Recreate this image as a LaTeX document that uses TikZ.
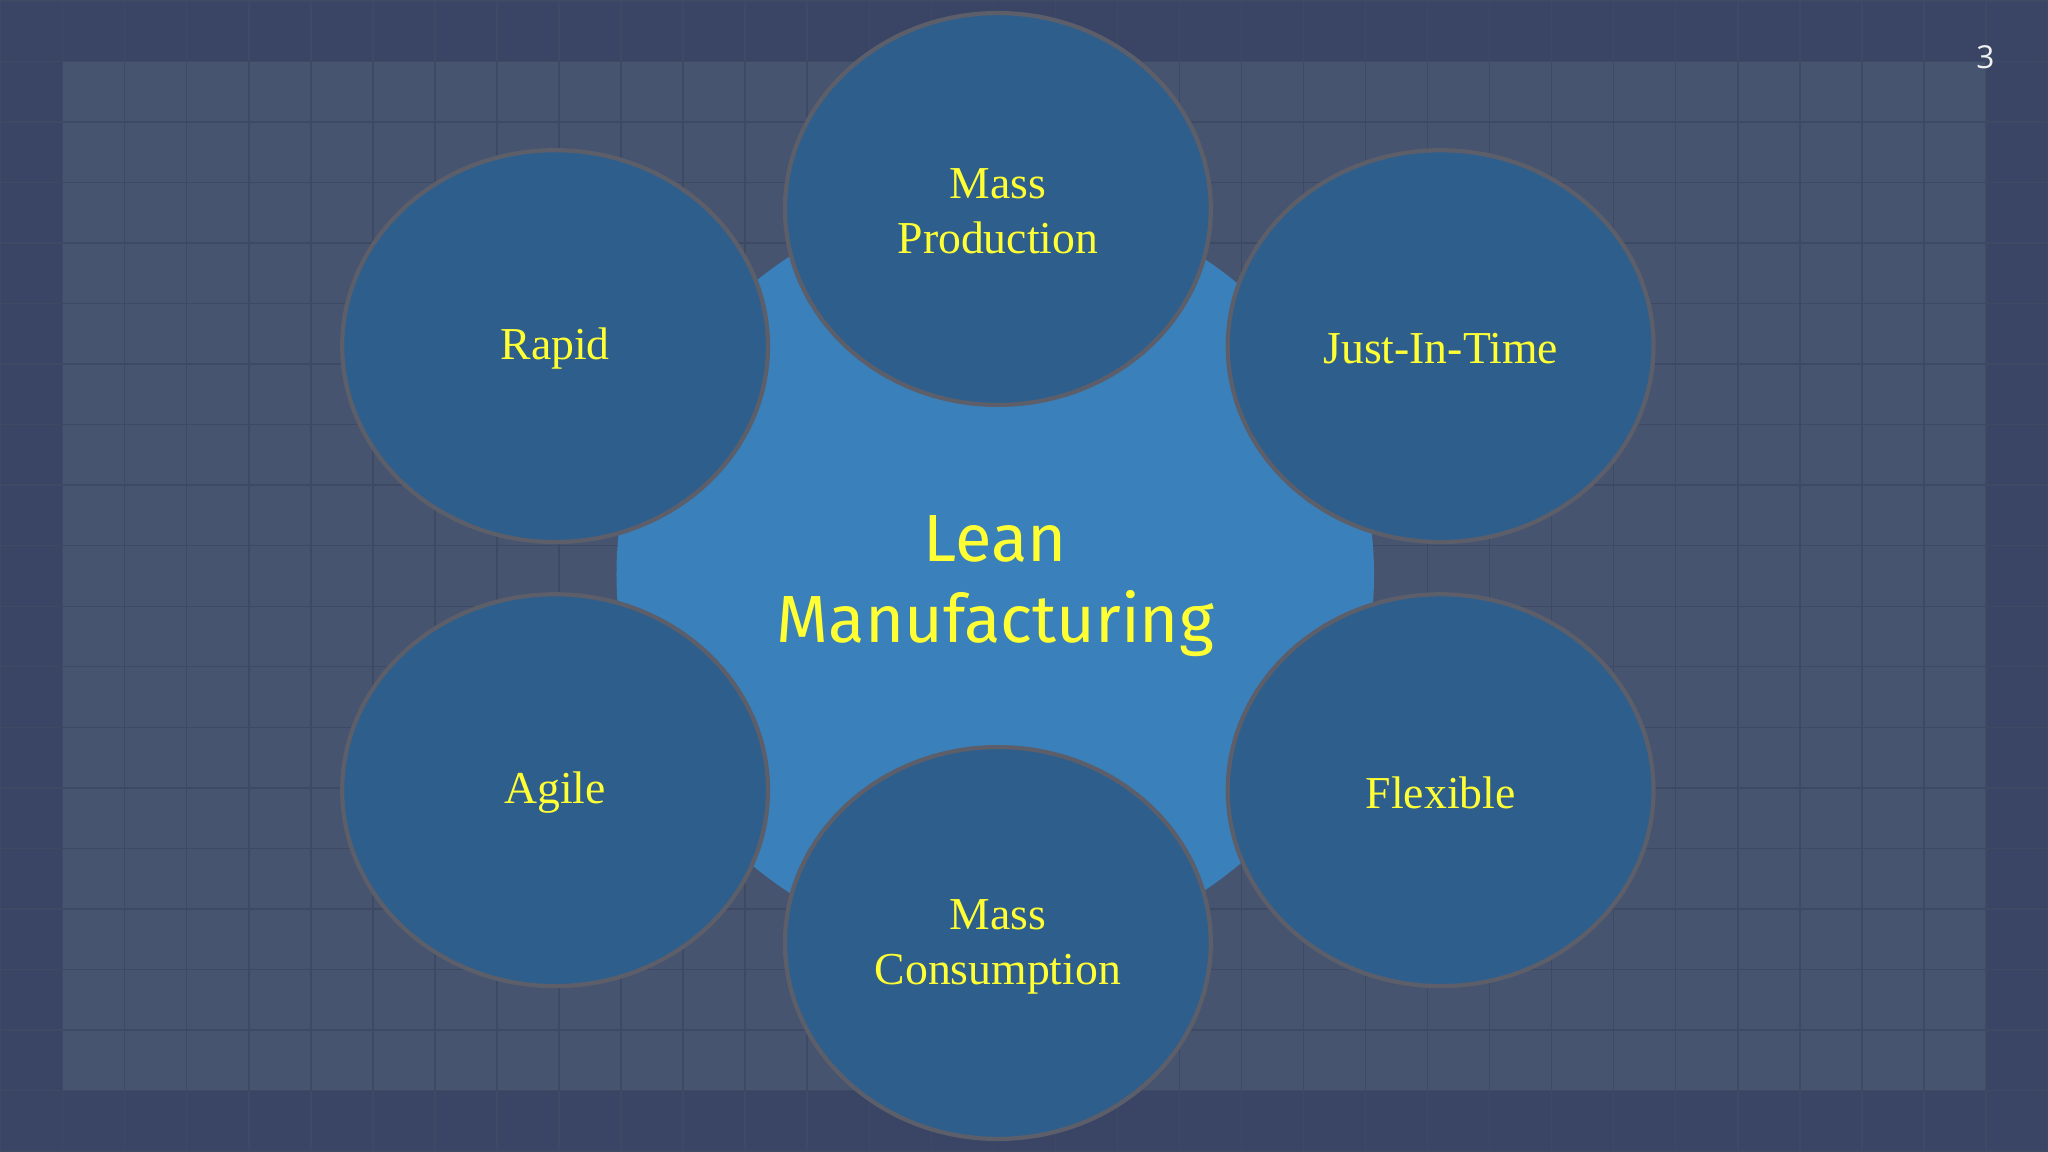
\documentclass[tikz,border=0pt]{standalone}
\usepackage{fontspec}
\setmainfont{Liberation Serif}
\newfontfamily\leanfont{Fira Sans}
\newfontfamily\numfont{Open Sans}
\definecolor{outerbg}{HTML}{3A4566}
\definecolor{innerbg}{HTML}{47546F}
\definecolor{gridc}{HTML}{3E4964}
\definecolor{centerc}{HTML}{3A80BA}
\definecolor{smallc}{HTML}{2E5F8C}
\definecolor{rimc}{HTML}{5C5E6A}
\definecolor{txt}{HTML}{FFFF33}
\begin{document}
\begin{tikzpicture}[x=0.013061cm,y=-0.013061cm,
  petal/.style={fill=smallc,draw=rimc,line width=1.2pt},
  lbl/.style={text=txt,font=\fontsize{13}{15.6}\selectfont,align=center}]
\useasboundingbox (0,0) rectangle (1568,882);
\fill[outerbg] (0,0) rectangle (1568,882);
\fill[innerbg] (48,47) rectangle (1520,835);
\foreach \i in {0,...,33} \draw[gridc,line width=0.4pt] ({48+47.5*(\i-1)},0) -- ({48+47.5*(\i-1)},882);
\foreach \j in {0,...,19} \draw[gridc,line width=0.4pt] (0,{47+46.35*(\j-1)}) -- (1568,{47+46.35*(\j-1)});
\fill[centerc] (762,440) ellipse (290 and 290);
\foreach \n/\x/\y in {mp/764/160, ra/425/265, jit/1103/265, ag/425/605, fl/1103/605, mc/764/722}
  \draw[petal] (\x,\y) ellipse (163 and 150) node[lbl] (\n) {};
\node[lbl] (tmp) at (764,162) {Mass\\Production};
\node[lbl] (tra) at (425,267) {Rapid};
\node[lbl] (tjit) at (1103,267) {Just-In-Time};
\node[lbl] (tag) at (425,607) {Agile};
\node[lbl] (tfl) at (1103,607) {Flexible};
\node[lbl] (tmc) at (764,725) {Mass\\Consumption};
\node[text=txt,align=center,font=\leanfont\fontsize{19}{23}\selectfont] (center) at (762,449) {Lean\\Manufacturing};
\node[text=white!90!gray,font=\numfont\fontsize{9}{10}\selectfont] (num) at (1520,44) {3};
\end{tikzpicture}
\end{document}
